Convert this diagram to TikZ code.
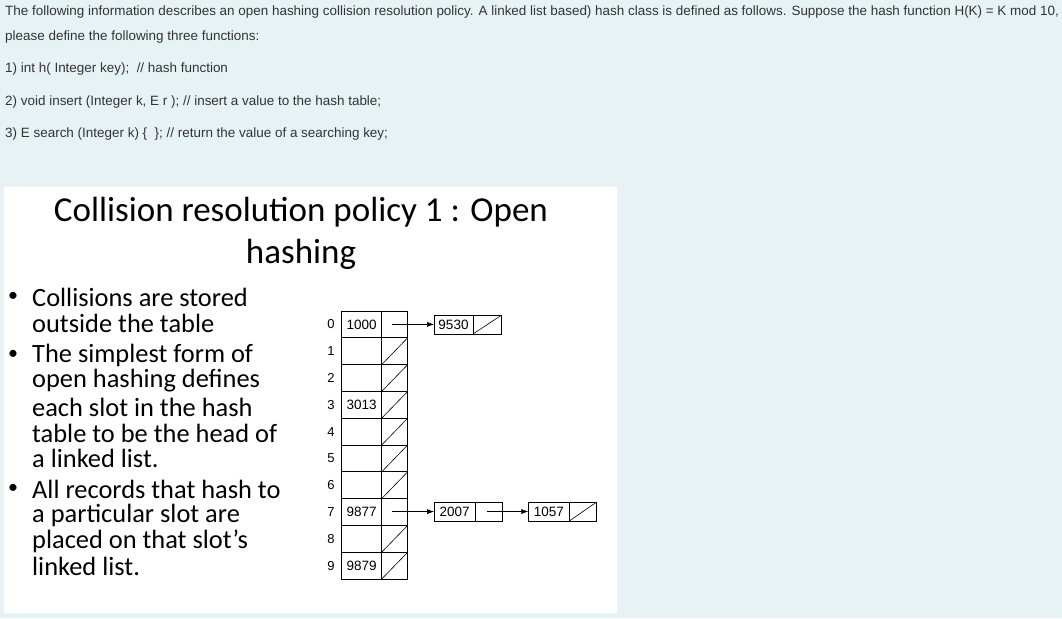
\documentclass[tikz,border=0pt]{standalone}
\usepackage{fontspec}
\usetikzlibrary{arrows.meta}
\setmainfont{Liberation Sans}
\newfontfamily\slide{Carlito}
\definecolor{bg}{HTML}{E7F2F5}
\definecolor{tx}{HTML}{333333}
\begin{document}
\begin{tikzpicture}[x=1pt,y=-1pt,
  top/.style={anchor=west,inner sep=0,text=tx,font=\fontsize{13.45}{15}\selectfont},
  bl/.style={anchor=west,inner sep=0,font=\slide\fontsize{26.4}{28}\selectfont},
  idx/.style={inner sep=0,font=\fontsize{13}{14}\selectfont},
  val/.style={inner sep=0,font=\fontsize{13.5}{14}\selectfont},
  cell/.style={draw,line width=0.8pt},
  arr/.style={-{Latex[length=7pt,width=5pt]},line width=0.5pt}]
\fill[bg] (0,0) rectangle (1062,618);
\fill[white] (4,187) rectangle (617,613);
\node[top] (l1) at (5,12) {The following information describes an open hashing collision resolution policy. A linked list based) hash class is defined as follows. Suppose the hash function H(K) = K mod 10,};
\node[top] (l2) at (5,37) {please define the following three functions:};
\node[top] (l3) at (5,69) {1) int h( Integer key);\ \ // hash function};
\node[top] (l4) at (5,102) {2) void insert (Integer k, E r ); // insert a value to the hash table;};
\node[top] (l5) at (5,134) {3) E search (Integer k) \{\ \ \}; // return the value of a searching key;};
\node[inner sep=0,font=\slide\fontsize{35}{42}\selectfont,align=center] (title) at (301,233) {Collision resolution policy 1 : Open\\hashing};
\foreach \y/\t [count=\i] in {297/Collisions are stored,323/outside the table,355/The simplest form of,381/open hashing defines,407/each slot in the hash,433/table to be the head of,458/a linked list.,489/All records that hash to,515/a particular slot are,541/placed on that slot’s,566/linked list.}
  \node[bl] (b\i) at (32,\y) {\t};
\foreach \y [count=\i] in {297,355,489} \node[inner sep=0,font=\slide\fontsize{20}{22}\selectfont] (d\i) at (13,\y) {•};
% table
\foreach \k/\v in {0/1000,1/,2/,3/3013,4/,5/,6/,7/9877,8/,9/9879}{
  \pgfmathsetmacro\yt{311+26.8*\k}
  \draw[cell] (341.5,\yt) rectangle (381.7,\yt+26.8);
  \draw[cell] (381.7,\yt) rectangle (407.7,\yt+26.8);
  \node[idx] (i\k) at (331,\yt+13.4) {\k};
  \node[val] (v\k) at (361.6,\yt+13.4) {\v};
}
\foreach \k in {1,2,3,4,5,6,8,9}{
  \pgfmathsetmacro\yt{311+26.8*\k}
  \draw[line width=0.6pt] (381.7,\yt+26.8) -- (407.7,\yt);
}
\coordinate (p0) at (391.7,324.4);
\coordinate (p7) at (391.7,511.6);
% list nodes
\draw[cell] (434,315) rectangle (473,334) (473,315) rectangle (501.7,334);
\draw[line width=0.6pt] (473,334) -- (501.7,315);
\node[val] (n9530) at (453.5,324.5) {9530};
\draw[cell] (434,502) rectangle (475.5,521) (475.5,502) rectangle (502.7,521);
\node[val] (n2007) at (454.7,511.5) {2007};
\coordinate (p2007) at (486.7,511.5);
\draw[cell] (528.3,502) rectangle (569.3,521) (569.3,502) rectangle (596.7,521);
\draw[line width=0.6pt] (569.3,521) -- (596.7,502);
\node[val] (n1057) at (548.8,511.5) {1057};
\coordinate (q0) at (434,324.4);
\coordinate (q7) at (434,511.6);
\coordinate (q1057) at (528.3,511.5);
\draw[arr] (p0) -- (q0);
\draw[arr] (p7) -- (q7);
\draw[arr] (p2007) -- (q1057);
\end{tikzpicture}
\end{document}
